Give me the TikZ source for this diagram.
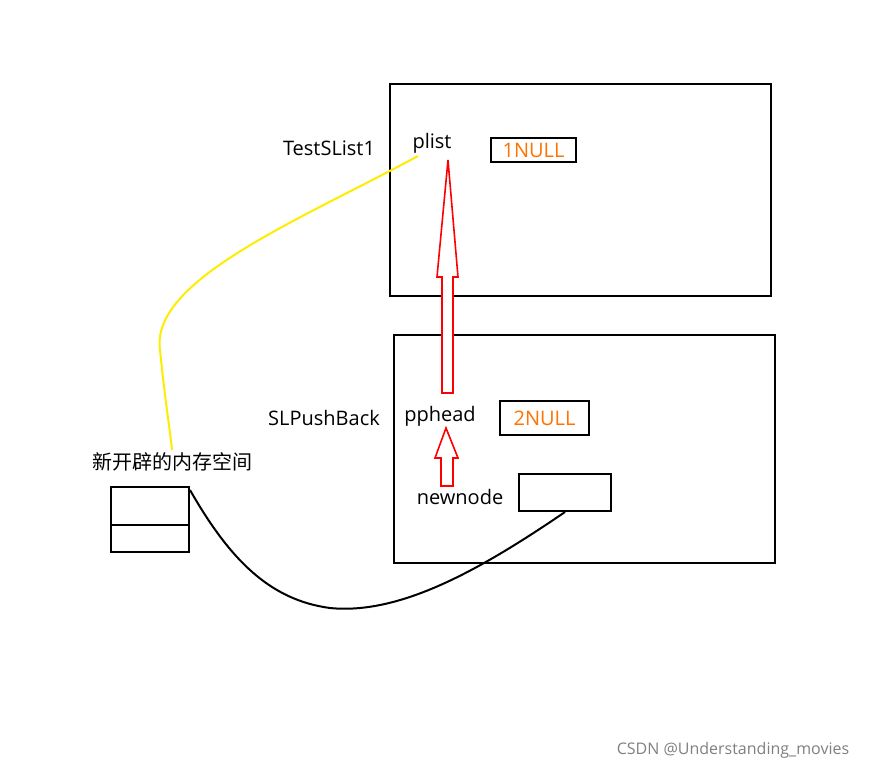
\documentclass[tikz,border=0pt]{standalone}
\usepackage{fontspec}
\setmainfont{Open Sans}
\newfontfamily\cjk{Noto Sans CJK SC}
\begin{document}
\begin{tikzpicture}[x=1pt,y=-1pt,
  blk/.style={draw=black,line width=2pt},
  lbl/.style={font=\fontsize{20}{22}\selectfont},
  nul/.style={draw=black,line width=2pt,text=orange!90!red,font=\fontsize{20}{22}\selectfont,inner sep=0pt},
  harrow/.style={draw=red,line width=1.6pt,fill=white}]
\useasboundingbox[fill=white] (0,0) rectangle (884,771);
\draw[blk] (390,84) rectangle (771,296);
\draw[blk] (394,335) rectangle (775,563);
\node[lbl] (t1) at (329,148) {TestSList1};
\node[lbl] (pl) at (432,143) {plist};
\node[nul,minimum width=85pt,minimum height=24pt] (n1) at (533.5,150) {1NULL};
\node[lbl] (sp) at (324,418) {SLPushBack};
\node[lbl] (pp) at (440,416) {pphead};
\node[nul,minimum width=89pt,minimum height=34pt] (n2) at (544.5,418) {2NULL};
\node[lbl] (nn) at (460,497) {newnode};
\node[blk,minimum width=92pt,minimum height=37pt,inner sep=0pt] (sb) at (565,492.5) {};
\node[lbl] (cn) at (172,462) {\cjk 新开辟的内存空间};
\node[blk,minimum width=78pt,minimum height=65pt,inner sep=0pt] (lb) at (150,519.5) {};
\draw[blk] (lb.west |- 0,525) -- (lb.east |- 0,525);
\draw[harrow] (448,160) -- (458,277) -- (453,277) -- (453,393) -- (442,393) -- (442,277) -- (437,277) -- cycle;
\draw[harrow] (446,428) -- (458,458) -- (453,458) -- (453,486) -- (441,486) -- (441,458) -- (435,458) -- cycle;
\coordinate (ya) at (418,156);
\coordinate (yb) at (172,450);
\draw[yellow!95!orange,line width=2pt] (ya) .. controls (300,220) and (150,280) .. (160,350) .. controls (165,400) and (170,430) .. (yb);
\coordinate (ba) at (565,512);
\coordinate (bb) at (190,490);
\draw[black,line width=2pt] (ba) .. controls (480,570) and (400,615) .. (330,608) .. controls (270,600) and (230,560) .. (bb);
\node[font=\fontsize{16}{18}\selectfont,text=gray] (wm) at (733,750) {CSDN @Understanding\_movies};
\end{tikzpicture}
\end{document}
